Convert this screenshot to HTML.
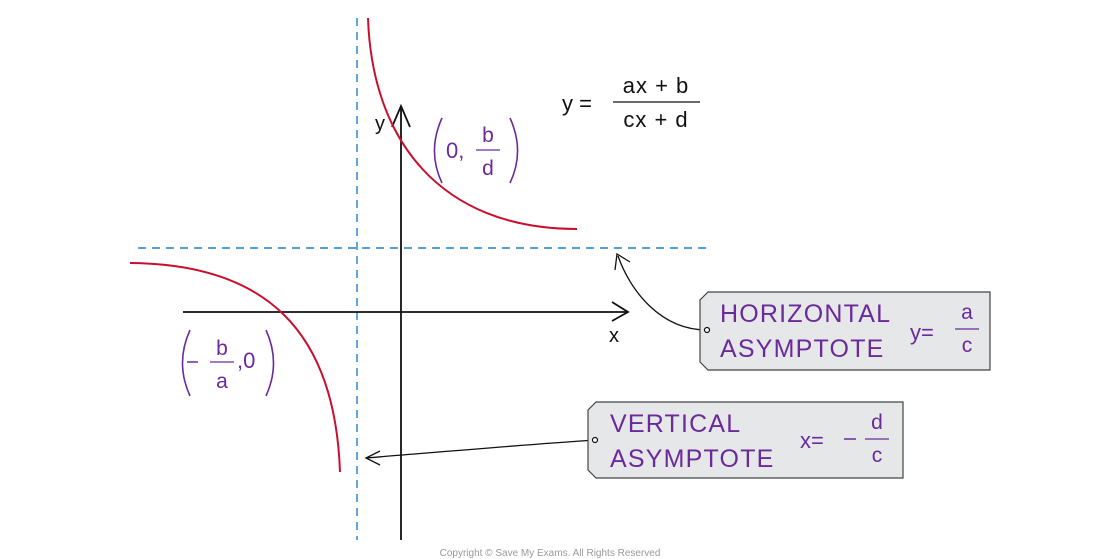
<!DOCTYPE html>
<html><head><meta charset="utf-8"><style>
html,body{margin:0;padding:0;background:#fff;}
svg{display:block;font-family:"Liberation Sans",sans-serif;}
.p{fill:#6a2a9a;}
</style></head><body>
<svg width="1100" height="559" viewBox="0 0 1100 559">
<line x1="357" y1="18" x2="357" y2="540" stroke="#1f80d0" stroke-width="1.4" stroke-dasharray="8,6"/>
<line x1="138" y1="248" x2="710" y2="248" stroke="#1f80d0" stroke-width="1.4" stroke-dasharray="8,6"/>
<line x1="401" y1="106" x2="401" y2="540" stroke="#111" stroke-width="1.8"/>
<polyline points="392,127 401,106 410,127" fill="none" stroke="#111" stroke-width="1.8"/>
<line x1="183" y1="312" x2="628" y2="312" stroke="#111" stroke-width="1.8"/>
<polyline points="612,302 628,312 612,321" fill="none" stroke="#111" stroke-width="1.8"/>
<text x="375" y="130" font-size="20" fill="#111">y</text>
<text x="609" y="342" font-size="20" fill="#111">x</text>
<path d="M368,18 C372,140 440,229 577,229" fill="none" stroke="#c8102e" stroke-width="2"/>
<path d="M130,263 C265,264 335,330 340,472" fill="none" stroke="#c8102e" stroke-width="2"/>
<text x="562" y="111" font-size="22" fill="#111">y =</text>
<line x1="613" y1="102" x2="700" y2="102" stroke="#111" stroke-width="1.3"/>
<text x="656" y="93" font-size="22" fill="#111" text-anchor="middle" letter-spacing="1">ax + b</text>
<text x="656" y="127" font-size="22" fill="#111" text-anchor="middle" letter-spacing="1">cx + d</text>
<path d="M442,118 C432,140 432,162 442,183" fill="none" stroke="#6a2a9a" stroke-width="1.6"/>
<path d="M510,118 C520,140 520,162 510,183" fill="none" stroke="#6a2a9a" stroke-width="1.6"/>
<text x="446" y="158" font-size="22" class="p">0,</text>
<line x1="476" y1="150" x2="500" y2="150" stroke="#6a2a9a" stroke-width="1.3"/>
<text x="488" y="142" font-size="21" class="p" text-anchor="middle">b</text>
<text x="488" y="175" font-size="21" class="p" text-anchor="middle">d</text>
<path d="M190,330 C180,352 180,374 190,396" fill="none" stroke="#6a2a9a" stroke-width="1.6"/>
<path d="M266,330 C276,352 276,374 266,396" fill="none" stroke="#6a2a9a" stroke-width="1.6"/>
<line x1="187" y1="362" x2="198" y2="362" stroke="#6a2a9a" stroke-width="1.5"/>
<line x1="210" y1="362" x2="234" y2="362" stroke="#6a2a9a" stroke-width="1.3"/>
<text x="222" y="355" font-size="21" class="p" text-anchor="middle">b</text>
<text x="222" y="388" font-size="21" class="p" text-anchor="middle">a</text>
<text x="237" y="368" font-size="22" class="p">,0</text>
<path d="M707,330 C660,330 630,290 618,256" fill="none" stroke="#111" stroke-width="1.3"/>
<polyline points="615,270 617,254 630,262" fill="none" stroke="#111" stroke-width="1.3"/>
<path d="M595,440 C520,445 440,452 366,458" fill="none" stroke="#111" stroke-width="1.3"/>
<polyline points="380,451 366,458 380,465" fill="none" stroke="#111" stroke-width="1.3"/>
<path d="M708,292 L990,292 L990,370 L708,370 L700,362 L700,300 Z" fill="#e6e7e8" stroke="#444" stroke-width="1.2"/>
<circle cx="707" cy="330" r="2.5" fill="#fff" stroke="#111" stroke-width="1.2"/>
<text x="720" y="322" font-size="25" class="p" letter-spacing="1.2">HORIZONTAL</text>
<text x="720" y="357" font-size="25" class="p" letter-spacing="1.2">ASYMPTOTE</text>
<text x="910" y="340" font-size="22" class="p">y=</text>
<line x1="955" y1="329" x2="979" y2="329" stroke="#6a2a9a" stroke-width="1.3"/>
<text x="967" y="319" font-size="21" class="p" text-anchor="middle">a</text>
<text x="967" y="352" font-size="21" class="p" text-anchor="middle">c</text>
<path d="M596,402 L903,402 L903,478 L596,478 L588,470 L588,410 Z" fill="#e6e7e8" stroke="#444" stroke-width="1.2"/>
<circle cx="595" cy="440" r="2.5" fill="#fff" stroke="#111" stroke-width="1.2"/>
<text x="610" y="432" font-size="25" class="p" letter-spacing="1.2">VERTICAL</text>
<text x="610" y="467" font-size="25" class="p" letter-spacing="1.2">ASYMPTOTE</text>
<text x="800" y="448" font-size="22" class="p">x=</text>
<line x1="844" y1="439" x2="856" y2="439" stroke="#6a2a9a" stroke-width="1.5"/>
<line x1="865" y1="439" x2="889" y2="439" stroke="#6a2a9a" stroke-width="1.3"/>
<text x="877" y="429" font-size="21" class="p" text-anchor="middle">d</text>
<text x="877" y="462" font-size="21" class="p" text-anchor="middle">c</text>
<text x="550" y="556" font-size="10" fill="#999" text-anchor="middle">Copyright © Save My Exams. All Rights Reserved</text>
</svg>
</body></html>
